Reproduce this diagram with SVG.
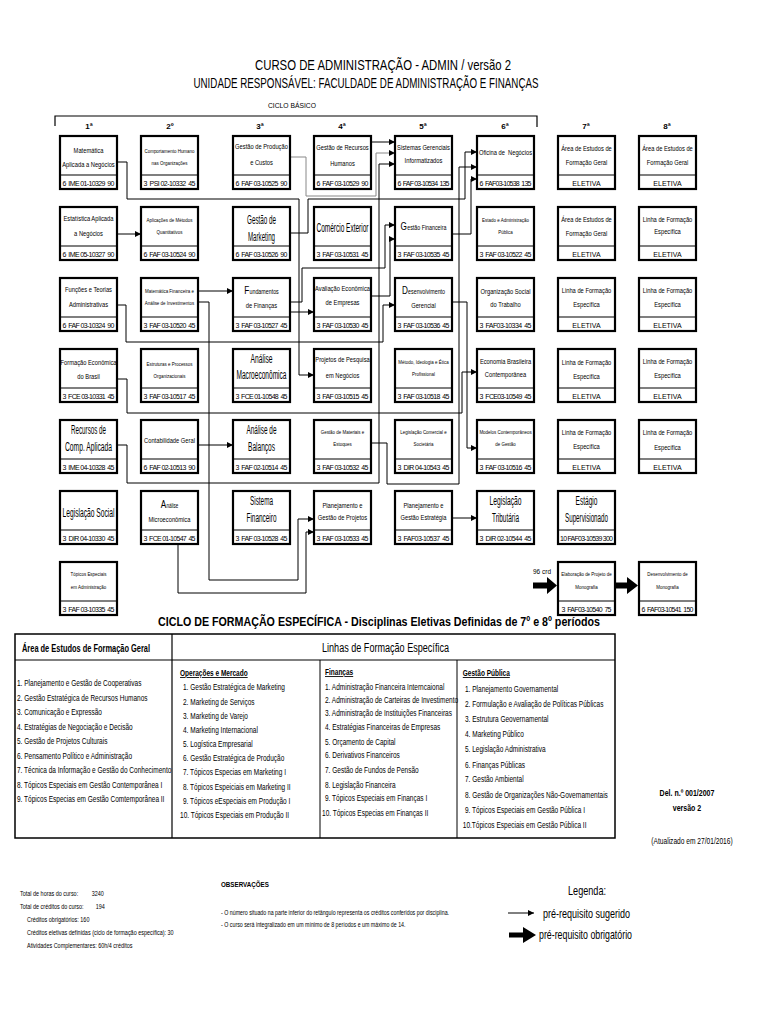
<svg xmlns="http://www.w3.org/2000/svg" width="768" height="1024" viewBox="0 0 768 1024">
<style>
text{font-family:"Liberation Sans",Arial,sans-serif;fill:#000}
.bx{fill:#fff;stroke:#000;stroke-width:2.2}
.dv{stroke:#000;stroke-width:1.2}
.tn{font-size:8px;text-anchor:middle}
.ts{font-size:6.2px;text-anchor:middle}
.tb{font-size:12px;text-anchor:middle}
.cd{font-size:7px;text-anchor:middle;white-space:pre}
.cn{fill:none;stroke:#000;stroke-width:1}
.cg{fill:none;stroke:#888;stroke-width:1}
.li{font-size:8.8px}
.hd{font-size:8.8px;font-weight:bold;text-decoration:underline}
.ft{font-size:7px}
</style>
<defs>
<marker id="ah" viewBox="0 0 6 6" refX="6" refY="3" markerWidth="6" markerHeight="6" markerUnits="userSpaceOnUse" orient="auto"><path d="M0,0 L6,3 L0,6 z" fill="#000"/></marker>
</defs>

<!-- header -->
<text x="383" y="70" font-size="15" text-anchor="middle" textLength="256" lengthAdjust="spacingAndGlyphs">CURSO DE ADMINISTRAÇÃO - ADMIN / versão 2</text>
<text x="366" y="88" font-size="15" text-anchor="middle" textLength="345" lengthAdjust="spacingAndGlyphs">UNIDADE RESPONSÁVEL: FACULDADE DE ADMINISTRAÇÃO E FINANÇAS</text>
<text x="292" y="108" font-size="7.5" text-anchor="middle" textLength="48" lengthAdjust="spacingAndGlyphs">CICLO BÁSICO</text>
<path d="M55,126 V116 H537 V127" fill="none" stroke="#000" stroke-width="1.2"/>
<g font-size="8" font-weight="bold" text-anchor="middle">
<text x="89" y="129">1ª</text><text x="170" y="129">2º</text><text x="260" y="129">3ª</text><text x="342" y="129">4ª</text>
<text x="423" y="129">5ª</text><text x="505" y="129">6ª</text><text x="586" y="129">7ª</text><text x="667" y="129">8ª</text>
</g>

<!-- connectors -->
<g id="connectors">
<path class="cn" d="M117,162 H127 V199 H299 V375 H314" marker-end="url(#ah)"/>
<path class="cn" d="M117,234 H141" marker-end="url(#ah)"/>
<path class="cn" d="M197,291 H233" marker-end="url(#ah)"/>
<path class="cn" d="M197,302 H209 V580 H298 V519 H314" marker-end="url(#ah)"/>
<path class="cn" d="M178,545 V593 H306 V532 H314" marker-end="url(#ah)"/>
<path class="cn" d="M117,305 H126 V342 H383 V305 H395" marker-end="url(#ah)"/>
<path class="cn" d="M290,302 H302 V268 H385 V225 H395" marker-end="url(#ah)"/>
<path class="cn" d="M290,312 H314" marker-end="url(#ah)"/>
<path class="cn" d="M372,296 H390 V239 H395" marker-end="url(#ah)"/>
<path class="cn" d="M372,142 H395" marker-end="url(#ah)"/>
<path class="cg" d="M290,157 H306 V196 H376 V153 H395" marker-end="url(#ah)"/>
<path class="cn" d="M290,233 H308 V199 H465 V152 H477" marker-end="url(#ah)"/>
<path class="cn" d="M452,234 H471 V179 H477" marker-end="url(#ah)"/>
<path class="cn" d="M117,379 H127 V413 H462 V372 H477" marker-end="url(#ah)"/>
<path class="cn" d="M117,445 H127 V483 H379 V164 H395" marker-end="url(#ah)"/>
<path class="cn" d="M197,445 H233" marker-end="url(#ah)"/>
<path class="cn" d="M452,302 H467 V448 H477" marker-end="url(#ah)"/>
<path class="cn" d="M372,443 H387 V484 H459 V167 H477" marker-end="url(#ah)"/>
<path class="cn" d="M452,518 H477" marker-end="url(#ah)"/>
<path d="M533,582.5 H547 V577 L557,585.5 L547,594 V588.5 H533 z" fill="#000"/>
<path d="M614,582.5 H627 V577 L638,585.5 L627,594 V588.5 H614 z" fill="#000"/>
</g>
<text x="542" y="574" font-size="8" text-anchor="middle" textLength="18" lengthAdjust="spacingAndGlyphs">96 crd</text>

<!-- Row 1 -->
<g id="n-mat-apl" transform="translate(60,136)"><rect class="bx" width="57" height="53"/><line class="dv" x1="0" y1="39" x2="57" y2="39"/><g transform="translate(28.5,0) scale(0.72,1)"><text class="tn" y="17">Matemática</text><text class="tn" y="31">Aplicada a Negócios</text></g><text class="cd" x="28.5" y="49.5" textLength="52">6  IME 01-10329  90</text></g>
<g id="n-comp-hum" transform="translate(141,136)"><rect class="bx" width="57" height="53"/><line class="dv" x1="0" y1="39" x2="57" y2="39"/><g transform="translate(28.5,0) scale(0.72,1)"><text class="ts" y="17">Comportamento Humano</text><text class="ts" y="29">nas Organizações</text></g><text class="cd" x="28.5" y="49.5" textLength="52">3  PSI 02-10332  45</text></g>
<g id="n-gest-prod" transform="translate(233,136)"><rect class="bx" width="57" height="53"/><line class="dv" x1="0" y1="39" x2="57" y2="39"/><g transform="translate(28.5,0) scale(0.72,1)"><text class="tn" y="13">Gestão de Produção</text><text class="tn" y="29">e Custos</text></g><text class="cd" x="28.5" y="49.5" textLength="52">6  FAF 03-10525  90</text></g>
<g id="n-gest-rh" transform="translate(314,136)"><rect class="bx" width="57" height="53"/><line class="dv" x1="0" y1="39" x2="57" y2="39"/><g transform="translate(28.5,0) scale(0.72,1)"><text class="tn" y="14">Gestão de Recursos</text><text class="tn" y="30">Humanos</text></g><text class="cd" x="28.5" y="49.5" textLength="52">6  FAF 03-10529  90</text></g>
<g id="n-sist-ger" transform="translate(395,136)"><rect class="bx" width="57" height="53"/><line class="dv" x1="0" y1="39" x2="57" y2="39"/><g transform="translate(28.5,0) scale(0.72,1)"><text class="tn" y="14">Sistemas Gerenciais</text><text class="tn" y="27">Informatizados</text></g><text class="cd" x="28.5" y="49.5" textLength="52">6  FAF 03-10534  135</text></g>
<g id="n-oficina" transform="translate(477,136)"><rect class="bx" width="57" height="53"/><line class="dv" x1="0" y1="39" x2="57" y2="39"/><g transform="translate(28.5,0) scale(0.72,1)"><text class="tn" y="19" style="white-space:pre">Oficina de  Negócios</text></g><text class="cd" x="28.5" y="49.5" textLength="52">6  FAF03-10538  135</text></g>
<g id="n-r1c7" transform="translate(558,136)"><rect class="bx" width="57" height="53"/><line class="dv" x1="0" y1="39" x2="57" y2="39"/><g transform="translate(28.5,0) scale(0.72,1)"><text class="tn" y="15">Área de Estudos de</text><text class="tn" y="29">Formação Geral</text></g><text class="cd" x="28.5" y="49.5">ELETIVA</text></g>
<g id="n-r1c8" transform="translate(639,136)"><rect class="bx" width="57" height="53"/><line class="dv" x1="0" y1="39" x2="57" y2="39"/><g transform="translate(28.5,0) scale(0.72,1)"><text class="tn" y="15">Área de Estudos de</text><text class="tn" y="29">Formação Geral</text></g><text class="cd" x="28.5" y="49.5">ELETIVA</text></g>

<!-- Row 2 -->
<g id="n-estat" transform="translate(60,207)"><rect class="bx" width="57" height="53"/><line class="dv" x1="0" y1="39" x2="57" y2="39"/><g transform="translate(28.5,0) scale(0.72,1)"><text class="tn" y="14">Estatística Aplicada</text><text class="tn" y="29">a Negócios</text></g><text class="cd" x="28.5" y="49.5" textLength="52">6  IME 05-10327  90</text></g>
<g id="n-aplic-met" transform="translate(141,207)"><rect class="bx" width="57" height="53"/><line class="dv" x1="0" y1="39" x2="57" y2="39"/><g transform="translate(28.5,0) scale(0.72,1)"><text class="ts" y="15">Aplicações de Métodos</text><text class="ts" y="27">Quantitativos</text></g><text class="cd" x="28.5" y="49.5" textLength="52">6  FAF 03-10524  90</text></g>
<g id="n-gest-mkt" transform="translate(233,207)"><rect class="bx" width="57" height="53"/><line class="dv" x1="0" y1="39" x2="57" y2="39"/><text class="tb" x="28.5" y="17" textLength="29" lengthAdjust="spacingAndGlyphs">Gestão de</text><text class="tb" x="28.5" y="34" textLength="27" lengthAdjust="spacingAndGlyphs">Marketing</text><text class="cd" x="28.5" y="49.5" textLength="52">6  FAF 03-10526  90</text></g>
<g id="n-com-ext" transform="translate(314,207)"><rect class="bx" width="57" height="53"/><line class="dv" x1="0" y1="39" x2="57" y2="39"/><text class="tb" x="28.5" y="25" textLength="52" lengthAdjust="spacingAndGlyphs">Comércio Exterior</text><text class="cd" x="28.5" y="49.5" textLength="52">3  FAF 03-10531  45</text></g>
<g id="n-gest-fin" transform="translate(395,207)"><rect class="bx" width="57" height="53"/><line class="dv" x1="0" y1="39" x2="57" y2="39"/><g transform="translate(28.5,0) scale(0.72,1)"><text x="-31.8" y="23" font-size="11.4">G</text><text x="-22.7" y="23" font-size="7.4">estão Financeira</text></g><text class="cd" x="28.5" y="49.5" textLength="52">3  FAF 03-10535  45</text></g>
<g id="n-estado" transform="translate(477,207)"><rect class="bx" width="57" height="53"/><line class="dv" x1="0" y1="39" x2="57" y2="39"/><g transform="translate(28.5,0) scale(0.72,1)"><text class="ts" y="15">Estado e Administração</text><text class="ts" y="27">Pública</text></g><text class="cd" x="28.5" y="49.5" textLength="52">3  FAF 03-10522  45</text></g>
<g id="n-r2c7" transform="translate(558,207)"><rect class="bx" width="57" height="53"/><line class="dv" x1="0" y1="39" x2="57" y2="39"/><g transform="translate(28.5,0) scale(0.72,1)"><text class="tn" y="15">Área de Estudos de</text><text class="tn" y="29">Formação Geral</text></g><text class="cd" x="28.5" y="49.5">ELETIVA</text></g>
<g id="n-r2c8" transform="translate(639,207)"><rect class="bx" width="57" height="53"/><line class="dv" x1="0" y1="39" x2="57" y2="39"/><g transform="translate(28.5,0) scale(0.72,1)"><text class="tn" y="15">Linha de Formação</text><text class="tn" y="27">Específica</text></g><text class="cd" x="28.5" y="49.5">ELETIVA</text></g>

<!-- Row 3 -->
<g id="n-funcoes" transform="translate(60,278)"><rect class="bx" width="57" height="53"/><line class="dv" x1="0" y1="39" x2="57" y2="39"/><g transform="translate(28.5,0) scale(0.72,1)"><text class="tn" y="14">Funções e Teorias</text><text class="tn" y="29">Administrativas</text></g><text class="cd" x="28.5" y="49.5" textLength="52">6  FAF 03-10324  90</text></g>
<g id="n-mat-fin" transform="translate(141,278)"><rect class="bx" width="57" height="53"/><line class="dv" x1="0" y1="39" x2="57" y2="39"/><g transform="translate(28.5,0) scale(0.72,1)"><text class="ts" y="15" font-size="5.7">Matemática Financeira e</text><text class="ts" y="27" font-size="5.7">Análise de Investimentos</text></g><text class="cd" x="28.5" y="49.5" textLength="52">3  FAF 03-10520  45</text></g>
<g id="n-fund-fin" transform="translate(233,278)"><rect class="bx" width="57" height="53"/><line class="dv" x1="0" y1="39" x2="57" y2="39"/><g transform="translate(28.5,0) scale(0.72,1)"><text x="-23.9" y="16" font-size="11.4">F</text><text x="-16.7" y="16" font-size="7.4">undamentos</text><text class="tn" y="30" font-size="7.4">de Finanças</text></g><text class="cd" x="28.5" y="49.5" textLength="52">3  FAF 03-10527  45</text></g>
<g id="n-aval-eco" transform="translate(314,278)"><rect class="bx" width="57" height="53"/><line class="dv" x1="0" y1="39" x2="57" y2="39"/><g transform="translate(28.5,0) scale(0.72,1)"><text class="tn" y="13">Avaliação Econômica</text><text class="tn" y="27">de Empresas</text></g><text class="cd" x="28.5" y="49.5" textLength="52">3  FAF 03-10530  45</text></g>
<g id="n-desenv-ger" transform="translate(395,278)"><rect class="bx" width="57" height="53"/><line class="dv" x1="0" y1="39" x2="57" y2="39"/><g transform="translate(28.5,0) scale(0.72,1)"><text x="-29.8" y="16" font-size="11.4">D</text><text x="-21.4" y="16" font-size="7.4">esenvolvimento</text><text class="tn" y="30" font-size="7.4">Gerencial</text></g><text class="cd" x="28.5" y="49.5" textLength="52">3  FAF 03-10536  45</text></g>
<g id="n-org-soc" transform="translate(477,278)"><rect class="bx" width="57" height="53"/><line class="dv" x1="0" y1="39" x2="57" y2="39"/><g transform="translate(28.5,0) scale(0.72,1)"><text class="tn" y="16">Organização Social</text><text class="tn" y="29">do Trabalho</text></g><text class="cd" x="28.5" y="49.5" textLength="52">3  FAF03-10334  45</text></g>
<g id="n-r3c7" transform="translate(558,278)"><rect class="bx" width="57" height="53"/><line class="dv" x1="0" y1="39" x2="57" y2="39"/><g transform="translate(28.5,0) scale(0.72,1)"><text class="tn" y="15">Linha de Formação</text><text class="tn" y="29">Específica</text></g><text class="cd" x="28.5" y="49.5">ELETIVA</text></g>
<g id="n-r3c8" transform="translate(639,278)"><rect class="bx" width="57" height="53"/><line class="dv" x1="0" y1="39" x2="57" y2="39"/><g transform="translate(28.5,0) scale(0.72,1)"><text class="tn" y="15">Linha de Formação</text><text class="tn" y="29">Específica</text></g><text class="cd" x="28.5" y="49.5">ELETIVA</text></g>

<!-- Row 4 -->
<g id="n-form-eco" transform="translate(60,349)"><rect class="bx" width="57" height="53"/><line class="dv" x1="0" y1="39" x2="57" y2="39"/><g transform="translate(28.5,0) scale(0.72,1)"><text class="tn" y="16">Formação Econômica</text><text class="tn" y="30">do Brasil</text></g><text class="cd" x="28.5" y="49.5" textLength="52">3  FCE 03-10331  45</text></g>
<g id="n-estrut" transform="translate(141,349)"><rect class="bx" width="57" height="53"/><line class="dv" x1="0" y1="39" x2="57" y2="39"/><g transform="translate(28.5,0) scale(0.72,1)"><text class="ts" y="17" font-size="5.7">Estruturas e Processos</text><text class="ts" y="29" font-size="5.7">Organizacionais</text></g><text class="cd" x="28.5" y="49.5" textLength="52">3  FAF 03-10517  45</text></g>
<g id="n-macro" transform="translate(233,349)"><rect class="bx" width="57" height="53"/><line class="dv" x1="0" y1="39" x2="57" y2="39"/><text class="tb" x="28.5" y="14" font-size="11" textLength="22" lengthAdjust="spacingAndGlyphs">Análise</text><text class="tb" x="28.5" y="30" font-size="11" textLength="50" lengthAdjust="spacingAndGlyphs">Macroeconômica</text><text class="cd" x="28.5" y="49.5" textLength="52">3  FCE 01-10548  45</text></g>
<g id="n-proj-pesq" transform="translate(314,349)"><rect class="bx" width="57" height="53"/><line class="dv" x1="0" y1="39" x2="57" y2="39"/><g transform="translate(28.5,0) scale(0.72,1)"><text class="tn" y="13" font-size="7.4">Projetos de Pesquisa</text><text class="tn" y="29" font-size="7.4">em Negócios</text></g><text class="cd" x="28.5" y="49.5" textLength="52">3  FAF 03-10515  45</text></g>
<g id="n-metodo" transform="translate(395,349)"><rect class="bx" width="57" height="53"/><line class="dv" x1="0" y1="39" x2="57" y2="39"/><g transform="translate(28.5,0) scale(0.72,1)"><text class="ts" y="15" font-size="5.7">Método, Ideologia e Ética</text><text class="ts" y="27" font-size="5.7">Profissional</text></g><text class="cd" x="28.5" y="49.5" textLength="52">3  FAF 03-10518  45</text></g>
<g id="n-eco-bras" transform="translate(477,349)"><rect class="bx" width="57" height="53"/><line class="dv" x1="0" y1="39" x2="57" y2="39"/><g transform="translate(28.5,0) scale(0.72,1)"><text class="tn" y="15">Economia Brasileira</text><text class="tn" y="28">Contemporânea</text></g><text class="cd" x="28.5" y="49.5" textLength="52">3  FCE03-10549  45</text></g>
<g id="n-r4c7" transform="translate(558,349)"><rect class="bx" width="57" height="53"/><line class="dv" x1="0" y1="39" x2="57" y2="39"/><g transform="translate(28.5,0) scale(0.72,1)"><text class="tn" y="16">Linha de Formação</text><text class="tn" y="30">Específica</text></g><text class="cd" x="28.5" y="49.5">ELETIVA</text></g>
<g id="n-r4c8" transform="translate(639,349)"><rect class="bx" width="57" height="53"/><line class="dv" x1="0" y1="39" x2="57" y2="39"/><g transform="translate(28.5,0) scale(0.72,1)"><text class="tn" y="15">Linha de Formação</text><text class="tn" y="29">Específica</text></g><text class="cd" x="28.5" y="49.5">ELETIVA</text></g>

<!-- Row 5 -->
<g id="n-rec-comp" transform="translate(60,420)"><rect class="bx" width="57" height="53"/><line class="dv" x1="0" y1="39" x2="57" y2="39"/><text class="tb" x="28.5" y="14" font-size="11" textLength="35" lengthAdjust="spacingAndGlyphs">Recursos de</text><text class="tb" x="28.5" y="31" font-size="11" textLength="47" lengthAdjust="spacingAndGlyphs">Comp. Aplicada</text><text class="cd" x="28.5" y="49.5" textLength="52">3  IME 04-10328  45</text></g>
<g id="n-contab" transform="translate(141,420)"><rect class="bx" width="57" height="53"/><line class="dv" x1="0" y1="39" x2="57" y2="39"/><g transform="translate(28.5,0) scale(0.72,1)"><text class="tn" y="23" font-size="6.9">Contabilidade Geral</text></g><text class="cd" x="28.5" y="49.5" textLength="52">6  FAF 02-10513  90</text></g>
<g id="n-balancos" transform="translate(233,420)"><rect class="bx" width="57" height="53"/><line class="dv" x1="0" y1="39" x2="57" y2="39"/><text class="tb" x="28.5" y="14" font-size="11" textLength="30" lengthAdjust="spacingAndGlyphs">Análise de</text><text class="tb" x="28.5" y="31" font-size="11" textLength="27" lengthAdjust="spacingAndGlyphs">Balanços</text><text class="cd" x="28.5" y="49.5" textLength="52">3  FAF 02-10514  45</text></g>
<g id="n-materiais" transform="translate(314,420)"><rect class="bx" width="57" height="53"/><line class="dv" x1="0" y1="39" x2="57" y2="39"/><g transform="translate(28.5,0) scale(0.72,1)"><text class="ts" y="14" font-size="5.5">Gestão de Materiais e</text><text class="ts" y="26" font-size="5.5">Estoques</text></g><text class="cd" x="28.5" y="49.5" textLength="52">3  FAF 03-10532  45</text></g>
<g id="n-leg-com" transform="translate(395,420)"><rect class="bx" width="57" height="53"/><line class="dv" x1="0" y1="39" x2="57" y2="39"/><g transform="translate(28.5,0) scale(0.72,1)"><text class="ts" y="14" font-size="5.5">Legislação Comercial e</text><text class="ts" y="26" font-size="5.5">Societária</text></g><text class="cd" x="28.5" y="49.5" textLength="52">3  DIR 04-10543  45</text></g>
<g id="n-modelos" transform="translate(477,420)"><rect class="bx" width="57" height="53"/><line class="dv" x1="0" y1="39" x2="57" y2="39"/><g transform="translate(28.5,0) scale(0.72,1)"><text class="ts" y="14" font-size="5.5">Modelos Contemporâneos</text><text class="ts" y="26" font-size="5.5">de Gestão</text></g><text class="cd" x="28.5" y="49.5" textLength="52">3  FAF 03-10516  45</text></g>
<g id="n-r5c7" transform="translate(558,420)"><rect class="bx" width="57" height="53"/><line class="dv" x1="0" y1="39" x2="57" y2="39"/><g transform="translate(28.5,0) scale(0.72,1)"><text class="tn" y="15">Linha de Formação</text><text class="tn" y="29">Específica</text></g><text class="cd" x="28.5" y="49.5">ELETIVA</text></g>
<g id="n-r5c8" transform="translate(639,420)"><rect class="bx" width="57" height="53"/><line class="dv" x1="0" y1="39" x2="57" y2="39"/><g transform="translate(28.5,0) scale(0.72,1)"><text class="tn" y="15">Linha de Formação</text><text class="tn" y="30">Específica</text></g><text class="cd" x="28.5" y="49.5">ELETIVA</text></g>

<!-- Row 6 -->
<g id="n-leg-soc" transform="translate(60,491)"><rect class="bx" width="57" height="53"/><line class="dv" x1="0" y1="39" x2="57" y2="39"/><text class="tb" x="28.5" y="26" font-size="11" textLength="52" lengthAdjust="spacingAndGlyphs">Legislação Social</text><text class="cd" x="28.5" y="49.5" textLength="52">3  DIR 04-10330  45</text></g>
<g id="n-micro" transform="translate(141,491)"><rect class="bx" width="57" height="53"/><line class="dv" x1="0" y1="39" x2="57" y2="39"/><g transform="translate(28.5,0) scale(0.72,1)"><text x="-12.2" y="17" font-size="11.4">A</text><text x="-4.3" y="17" font-size="6.3">nálise</text><text class="tn" y="31" font-size="6.9">Microeconômica</text></g><text class="cd" x="28.5" y="49.5" textLength="52">3  FCE 01-10547  45</text></g>
<g id="n-sist-fin" transform="translate(233,491)"><rect class="bx" width="57" height="53"/><line class="dv" x1="0" y1="39" x2="57" y2="39"/><text class="tb" x="28.5" y="14" font-size="11" textLength="23" lengthAdjust="spacingAndGlyphs">Sistema</text><text class="tb" x="28.5" y="31" font-size="11" textLength="30" lengthAdjust="spacingAndGlyphs">Financeiro</text><text class="cd" x="28.5" y="49.5" textLength="52">3  FAF 03-10528  45</text></g>
<g id="n-plan-proj" transform="translate(314,491)"><rect class="bx" width="57" height="53"/><line class="dv" x1="0" y1="39" x2="57" y2="39"/><g transform="translate(28.5,0) scale(0.72,1)"><text class="tn" y="17" font-size="7.2">Planejamento e</text><text class="tn" y="29" font-size="7.2">Gestão de Projetos</text></g><text class="cd" x="28.5" y="49.5" textLength="52">3  FAF 03-10533  45</text></g>
<g id="n-plan-est" transform="translate(395,491)"><rect class="bx" width="57" height="53"/><line class="dv" x1="0" y1="39" x2="57" y2="39"/><g transform="translate(28.5,0) scale(0.72,1)"><text class="tn" y="17" font-size="7.2">Planejamento e</text><text class="tn" y="29" font-size="7.2">Gestão Estratégia</text></g><text class="cd" x="28.5" y="49.5" textLength="52">3  FAF03-10537  45</text></g>
<g id="n-leg-trib" transform="translate(477,491)"><rect class="bx" width="57" height="53"/><line class="dv" x1="0" y1="39" x2="57" y2="39"/><text class="tb" x="28.5" y="14" font-size="11" textLength="32" lengthAdjust="spacingAndGlyphs">Legislação</text><text class="tb" x="28.5" y="31" font-size="11" textLength="27" lengthAdjust="spacingAndGlyphs">Tributária</text><text class="cd" x="28.5" y="49.5" textLength="52">3  DIR 02-10544  45</text></g>
<g id="n-estagio" transform="translate(558,491)"><rect class="bx" width="57" height="53"/><line class="dv" x1="0" y1="39" x2="57" y2="39"/><text class="tb" x="28.5" y="14" font-size="11" textLength="22" lengthAdjust="spacingAndGlyphs">Estágio</text><text class="tb" x="28.5" y="31" font-size="11" textLength="43" lengthAdjust="spacingAndGlyphs">Supervisionado</text><text class="cd" x="28.5" y="49.5" textLength="53">10 FAF03-10539 300</text></g>

<!-- Row 7 -->
<g id="n-topicos" transform="translate(60,562)"><rect class="bx" width="57" height="53"/><line class="dv" x1="0" y1="39" x2="57" y2="39"/><g transform="translate(28.5,0) scale(0.72,1)"><text class="ts" y="14">Tópicos Especiais</text><text class="ts" y="27">em Administração</text></g><text class="cd" x="28.5" y="49.5" textLength="52">3  FAF 03-10335  45</text></g>
<g id="n-elab-mono" transform="translate(558,562)"><rect class="bx" width="57" height="53"/><line class="dv" x1="0" y1="39" x2="57" y2="39"/><g transform="translate(28.5,0) scale(0.72,1)"><text class="ts" y="14" font-size="5.5">Elaboração de Projeto de</text><text class="ts" y="27" font-size="5.5">Monografia</text></g><text class="cd" x="28.5" y="49.5" textLength="50">3  FAF03-10540  75</text></g>
<g id="n-desenv-mono" transform="translate(639,562)"><rect class="bx" width="57" height="53"/><line class="dv" x1="0" y1="39" x2="57" y2="39"/><g transform="translate(28.5,0) scale(0.72,1)"><text class="ts" y="14" font-size="6.3">Desenvolvimento de</text><text class="ts" y="27" font-size="6.3">Monografia</text></g><text class="cd" x="28.5" y="49.5" textLength="52">6  FAF03-10541  150</text></g>

<!-- Ciclo de formação específica -->
<text x="379" y="626" font-size="12" font-weight="bold" text-anchor="middle" textLength="442" lengthAdjust="spacingAndGlyphs">CICLO DE FORMAÇÃO ESPECÍFICA - Disciplinas Eletivas Definidas de 7º e 8º períodos</text>
<g id="table">
<rect x="15" y="634" width="600" height="204" fill="none" stroke="#000" stroke-width="1.5"/>
<line x1="15" y1="660" x2="615" y2="660" stroke="#000" stroke-width="1.2"/>
<line x1="172" y1="634" x2="172" y2="838" stroke="#000" stroke-width="1.2"/>
<line x1="320" y1="660" x2="320" y2="838" stroke="#000" stroke-width="1"/>
<line x1="457" y1="660" x2="457" y2="838" stroke="#000" stroke-width="1"/>
<text x="22" y="652" font-size="10.5" font-weight="bold" textLength="128" lengthAdjust="spacingAndGlyphs">Área de Estudos de Formação Geral</text>
<text x="322" y="652" font-size="12.5" textLength="127" lengthAdjust="spacingAndGlyphs">Linhas de Formação Específica</text>
<g transform="translate(17,0) scale(0.74,1)">
<text y="686" class="li">1. Planejamento e Gestão de Cooperativas</text>
<text y="701" class="li">2. Gestão Estratégica de Recursos Humanos</text>
<text y="715" class="li">3. Comunicação e Expressão</text>
<text y="730" class="li">4. Estratégias de Negociação e Decisão</text>
<text y="744" class="li">5. Gestão de Projetos Culturais</text>
<text y="759" class="li">6. Pensamento Político e Administração</text>
<text y="773" class="li">7. Técnica da Informação e Gestão do Conhecimento</text>
<text y="788" class="li">8. Tópicos Especiais em Gestão Contemporânea I</text>
<text y="802" class="li">9. Tópicos Especias em Gestão Comtemporânea II</text>
</g>
<g transform="translate(183,0) scale(0.74,1)">
<text x="-4" y="676" class="hd">Operações e Mercado</text>
<text y="690" class="li">1. Gestão Estratégica de Marketing</text>
<text y="705" class="li">2. Marketing de Serviços</text>
<text y="719" class="li">3. Marketing de Varejo</text>
<text y="733" class="li">4. Marketing Internacional</text>
<text y="747" class="li">5. Logística Empresarial</text>
<text y="761" class="li">6. Gestão Estratégica de Produção</text>
<text y="775" class="li">7. Tópicos Especias em Marketing I</text>
<text y="790" class="li">8. Tópicos Espeiciais em Marketing II</text>
<text y="804" class="li">9. Tópicos eEspeciais em Produção I</text>
<text x="-4" y="818" class="li">10. Tópicos Especiais em Produção II</text>
</g>
<g transform="translate(325,0) scale(0.74,1)">
<text y="675" class="hd">Finanças</text>
<text y="690" class="li">1. Administração Financeira Interncaional</text>
<text y="703" class="li">2. Administração de Carteiras de Investimento</text>
<text y="716" class="li">3. Administração de Instituições Financeiras</text>
<text y="730" class="li">4. Estratégias Financeiras de Empresas</text>
<text y="745" class="li">5. Orçamento de Capital</text>
<text y="758" class="li">6. Derivativos Financeiros</text>
<text y="773" class="li">7. Gestão de Fundos de Pensão</text>
<text y="788" class="li">8. Legislação Financeira</text>
<text y="801" class="li">9. Tópicos Especiais em Finanças I</text>
<text x="-4" y="816" class="li">10. Tópicos Especias em Finanças II</text>
</g>
<g transform="translate(465,0) scale(0.74,1)">
<text x="-3" y="676" class="hd">Gestão Pública</text>
<text y="692" class="li">1. Planejamento Governamental</text>
<text y="707" class="li">2. Formulação e Avaliação de Políticas Públicas</text>
<text y="722" class="li">3. Estrutura Geovernamental</text>
<text y="737" class="li">4. Marketing Público</text>
<text y="752" class="li">5. Legislação Administrativa</text>
<text y="768" class="li">6. Finanças Públicas</text>
<text y="782" class="li">7. Gestão Ambiental</text>
<text y="798" class="li">8. Gestão de Organizações Não-Governamentais</text>
<text y="813" class="li">9. Tópicos Especiais em Gestão Pública I</text>
<text x="-3" y="828" class="li">10.Tópicos Especiais em Gestão Pública II</text>
</g>
</g>

<g transform="translate(687,0) scale(0.78,1)" text-anchor="middle">
<text y="796" font-size="9" font-weight="bold">Del. n.º 001/2007</text>
<text y="811" font-size="9" font-weight="bold">versão 2</text>
</g>
<g transform="translate(692,0) scale(0.78,1)" text-anchor="middle">
<text y="844" font-size="8.5">(Atualizado em 27/01/2016)</text>
</g>

<!-- footer -->
<g transform="translate(20,0) scale(0.78,1)">
<text y="896" class="ft">Total de horas do curso:<tspan x="92">3240</tspan></text>
<text y="909" class="ft">Total de créditos do curso:<tspan x="97">194</tspan></text>
<text x="9" y="922" class="ft">Créditos obrigatórios: 160</text>
<text x="9" y="935" class="ft">Créditos eletivas definidas (ciclo de formação específica): 30</text>
<text x="9" y="948" class="ft">Atividades Complementares: 60h/4 créditos</text>
</g>
<g transform="translate(221,0) scale(0.78,1)">
<text y="887" font-size="8" font-weight="bold">OBSERVAÇÕES</text>
<text y="915" font-size="6.8">- O número situado na parte inferior do retângulo representa os créditos conferidos por disciplina.</text>
<text y="927" font-size="6.8">- O curso será integralizado em um mínimo de 8 períodos e um máximo de 14.</text>
</g>

<g id="legend">
<text x="587" y="895" font-size="13" text-anchor="middle" textLength="38" lengthAdjust="spacingAndGlyphs">Legenda:</text>
<path d="M508,913 H534" class="cn" marker-end="url(#ah)"/>
<text x="543" y="918" font-size="13" textLength="87" lengthAdjust="spacingAndGlyphs">pré-requisito sugerido</text>
<path d="M509,932.5 H523 V927 L536,935 L523,943 V937.5 H509 z" fill="#000"/>
<text x="539" y="939" font-size="13" textLength="93" lengthAdjust="spacingAndGlyphs">pré-requisito obrigatório</text>
</g>
</svg>
